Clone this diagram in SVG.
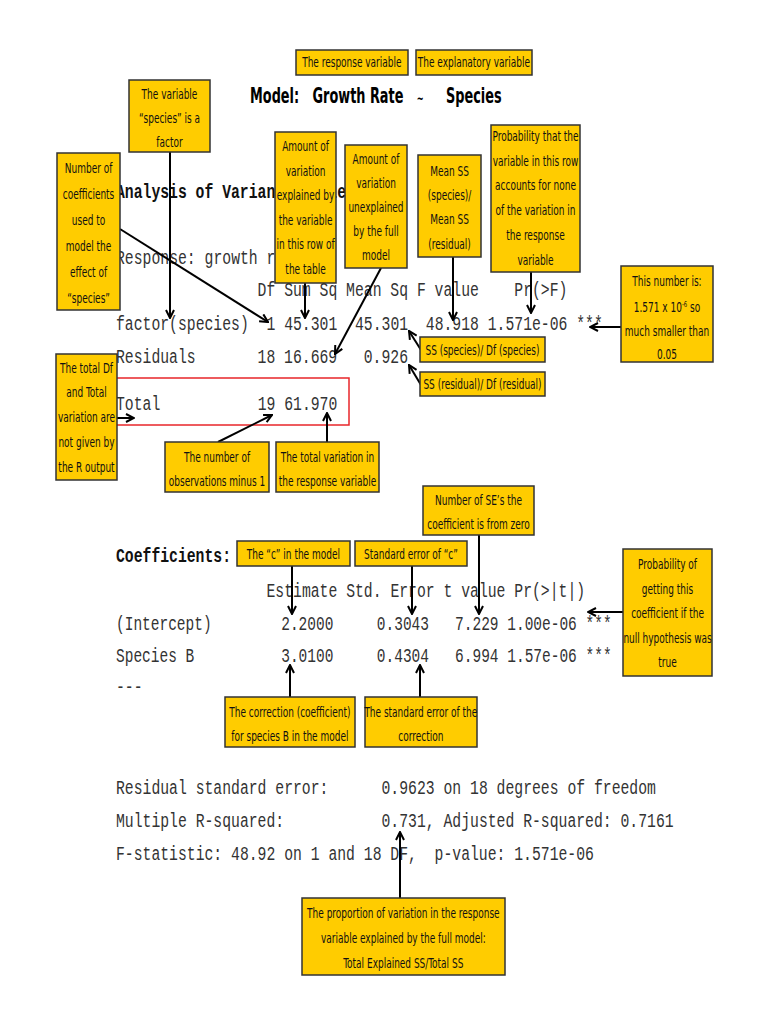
<svg xmlns="http://www.w3.org/2000/svg" width="768" height="1024" viewBox="0 0 768 1024">
<style>
.m{font-family:"Liberation Mono",monospace;font-size:20px;fill:#333;white-space:pre}
.mb{font-family:"Liberation Mono",monospace;font-size:20px;font-weight:bold;fill:#111;white-space:pre}
.b{fill:#FFCC00;stroke:#333;stroke-width:1.5}
.t{font-family:"DejaVu Sans Condensed","Liberation Sans",sans-serif;font-stretch:condensed;font-size:13.5px;fill:#111;text-anchor:middle;transform-box:fill-box;transform-origin:center;transform:scaleX(0.74)}
.c line{stroke:#000;stroke-width:2;fill:none}
.title{font-family:"DejaVu Sans Condensed","Liberation Sans",sans-serif;font-size:22px;font-weight:bold;fill:#000;white-space:pre}
</style>
<defs>
<marker id="a" viewBox="0 0 10 10" refX="9" refY="5" markerWidth="5" markerHeight="5" orient="auto" markerUnits="strokeWidth">
<path d="M1,1 L9,5 L1,9" fill="none" stroke="#000" stroke-width="2"/>
</marker>
</defs>
<rect width="768" height="1024" fill="#fff"/>
<g id="routput">
<text class="mb" x="116" y="198" textLength="230" lengthAdjust="spacingAndGlyphs">Analysis of Variance Table</text>
<text class="m" x="116" y="264" textLength="186" lengthAdjust="spacingAndGlyphs">Response: growth rate</text>
<text class="m" x="257.6" y="296" textLength="309.8" lengthAdjust="spacingAndGlyphs">Df Sum Sq Mean Sq F value    Pr(&gt;F)</text>
<text class="m" x="116" y="330" textLength="486.8" lengthAdjust="spacingAndGlyphs">factor(species)  1 45.301  45.301  48.918 1.571e-06 ***</text>
<text class="m" x="116" y="363" textLength="292" lengthAdjust="spacingAndGlyphs">Residuals       18 16.669   0.926</text>
<text class="m" x="116" y="410" textLength="221.3" lengthAdjust="spacingAndGlyphs">Total           19 61.970</text>
<rect x="116" y="378" width="233" height="47" fill="none" stroke="#e8262a" stroke-width="1.5"/>
<text class="mb" x="116" y="562" textLength="115" lengthAdjust="spacingAndGlyphs">Coefficients:</text>
<text class="m" x="266.5" y="597" textLength="318.6" lengthAdjust="spacingAndGlyphs">Estimate Std. Error t value Pr(&gt;|t|)</text>
<text class="m" x="116" y="630" textLength="495.6" lengthAdjust="spacingAndGlyphs">(Intercept)        2.2000     0.3043   7.229 1.00e-06 ***</text>
<text class="m" x="116" y="662" textLength="495.6" lengthAdjust="spacingAndGlyphs">Species B          3.0100     0.4304   6.994 1.57e-06 ***</text>
<text class="m" x="116" y="693" textLength="26.6" lengthAdjust="spacingAndGlyphs">---</text>
<text class="m" x="116" y="794" textLength="539.9" lengthAdjust="spacingAndGlyphs">Residual standard error:      0.9623 on 18 degrees of freedom</text>
<text class="m" x="116" y="827" textLength="557.6" lengthAdjust="spacingAndGlyphs">Multiple R-squared:           0.731, Adjusted R-squared: 0.7161</text>
<text class="m" x="116" y="860" textLength="477.9" lengthAdjust="spacingAndGlyphs">F-statistic: 48.92 on 1 and 18 DF,  p-value: 1.571e-06</text>
<text class="title" x="250" y="103" transform="matrix(0.65,0,0,1,87.5,0)">Model:   Growth Rate   <tspan font-size="14">~</tspan>     Species</text>
</g>
<g class="c" id="connectors">
<line x1="170" y1="152" x2="170" y2="318" marker-end="url(#a)"/>
<line x1="120" y1="229" x2="268" y2="322" marker-end="url(#a)"/>
<line x1="305" y1="283" x2="305" y2="318" marker-end="url(#a)"/>
<line x1="381" y1="268" x2="335" y2="354" marker-end="url(#a)"/>
<line x1="453" y1="257" x2="453" y2="320" marker-end="url(#a)"/>
<line x1="531" y1="272" x2="531" y2="313" marker-end="url(#a)"/>
<line x1="621" y1="327" x2="590" y2="327" marker-end="url(#a)"/>
<line x1="421" y1="350" x2="409" y2="331" stroke-width="1.5" marker-end="url(#a)"/>
<line x1="421" y1="385" x2="409" y2="365" stroke-width="1.5" marker-end="url(#a)"/>
<line x1="117" y1="418" x2="134" y2="418" marker-end="url(#a)"/>
<line x1="218" y1="442" x2="272" y2="415" marker-end="url(#a)"/>
<line x1="327" y1="442" x2="327" y2="413" marker-end="url(#a)"/>
<line x1="479" y1="535" x2="479" y2="614" marker-end="url(#a)"/>
<line x1="292" y1="566" x2="292" y2="614" marker-end="url(#a)"/>
<line x1="412" y1="566" x2="412" y2="614" marker-end="url(#a)"/>
<line x1="623" y1="612" x2="588" y2="612" marker-end="url(#a)"/>
<line x1="290" y1="697" x2="290" y2="665" marker-end="url(#a)"/>
<line x1="420" y1="697" x2="420" y2="665" marker-end="url(#a)"/>
<line x1="400" y1="898" x2="400" y2="832" marker-end="url(#a)"/>
</g>
<g id="n-response"><rect class="b" x="296" y="50" width="112" height="25"/><text class="t" x="352" y="67">The response variable</text></g>
<g id="n-explanatory"><rect class="b" x="416" y="50" width="116" height="25"/><text class="t" x="474" y="67">The explanatory variable</text></g>
<g id="n-factor"><rect class="b" x="129" y="80" width="81" height="72"/><text class="t"><tspan x="169.5" y="99">The variable</tspan><tspan x="169.5" y="123">“species” is a</tspan><tspan x="169.5" y="147">factor</tspan></text></g>
<g id="n-ncoef"><rect class="b" x="57" y="153" width="63" height="157"/><text class="t"><tspan x="88.5" y="173">Number of</tspan><tspan x="88.5" y="199">coefficients</tspan><tspan x="88.5" y="225">used to</tspan><tspan x="88.5" y="251">model the</tspan><tspan x="88.5" y="277">effect of</tspan><tspan x="88.5" y="303">“species”</tspan></text></g>
<g id="n-explained"><rect class="b" x="275" y="132" width="61" height="151"/><text class="t"><tspan x="305.5" y="151">Amount of</tspan><tspan x="305.5" y="176">variation</tspan><tspan x="305.5" y="200">explained by</tspan><tspan x="305.5" y="225">the variable</tspan><tspan x="305.5" y="249">in this row of</tspan><tspan x="305.5" y="274">the table</tspan></text></g>
<g id="n-unexplained"><rect class="b" x="345" y="145" width="62" height="123"/><text class="t"><tspan x="376" y="164">Amount of</tspan><tspan x="376" y="188">variation</tspan><tspan x="376" y="212">unexplained</tspan><tspan x="376" y="236">by the full</tspan><tspan x="376" y="260">model</tspan></text></g>
<g id="n-meanss"><rect class="b" x="418" y="155" width="63" height="102"/><text class="t"><tspan x="449.5" y="176">Mean SS</tspan><tspan x="449.5" y="200">(species)/</tspan><tspan x="449.5" y="224">Mean SS</tspan><tspan x="449.5" y="249">(residual)</tspan></text></g>
<g id="n-prob"><rect class="b" x="491" y="125" width="89" height="147"/><text class="t"><tspan x="535.5" y="141">Probability that the</tspan><tspan x="535.5" y="166">variable in this row</tspan><tspan x="535.5" y="190">accounts for none</tspan><tspan x="535.5" y="215">of the variation in</tspan><tspan x="535.5" y="240">the response</tspan><tspan x="535.5" y="265">variable</tspan></text></g>
<g id="n-number"><rect class="b" x="621" y="266" width="92" height="96"/><text class="t"><tspan x="667" y="286">This number is:</tspan><tspan x="667" y="312">1.571 x 10<tspan font-size="8" dy="-5">-6</tspan><tspan dy="5"> so</tspan></tspan><tspan x="667" y="336">much smaller than</tspan><tspan x="667" y="359">0.05</tspan></text></g>
<g id="n-ssdf-species"><rect class="b" x="420" y="337" width="125" height="25"/><text class="t" x="482.5" y="355">SS (species)/ Df (species)</text></g>
<g id="n-ssdf-residual"><rect class="b" x="420" y="372" width="125" height="24"/><text class="t" x="482.5" y="389">SS (residual)/ Df (residual)</text></g>
<g id="n-total"><rect class="b" x="56" y="354" width="61" height="126"/><text class="t"><tspan x="86.5" y="373">The total Df</tspan><tspan x="86.5" y="397">and Total</tspan><tspan x="86.5" y="422">variation are</tspan><tspan x="86.5" y="447">not given by</tspan><tspan x="86.5" y="472">the R output</tspan></text></g>
<g id="n-obs"><rect class="b" x="165" y="442" width="104" height="50"/><text class="t"><tspan x="217" y="462">The number of</tspan><tspan x="217" y="486">observations minus 1</tspan></text></g>
<g id="n-totvar"><rect class="b" x="276" y="442" width="103" height="50"/><text class="t"><tspan x="327.5" y="462">The total variation in</tspan><tspan x="327.5" y="486">the response variable</tspan></text></g>
<g id="n-nse"><rect class="b" x="423" y="486" width="111" height="49"/><text class="t"><tspan x="478.5" y="505">Number of SE’s the</tspan><tspan x="478.5" y="529">coefficient is from zero</tspan></text></g>
<g id="n-c"><rect class="b" x="237" y="541" width="113" height="25"/><text class="t" x="293.5" y="559">The “c” in the model</text></g>
<g id="n-sec"><rect class="b" x="355" y="541" width="112" height="25"/><text class="t" x="411" y="559">Standard error of “c”</text></g>
<g id="n-probcoef"><rect class="b" x="623" y="549" width="89" height="127"/><text class="t"><tspan x="667.5" y="569">Probability of</tspan><tspan x="667.5" y="594">getting this</tspan><tspan x="667.5" y="618">coefficient if the</tspan><tspan x="667.5" y="643">null hypothesis was</tspan><tspan x="667.5" y="667">true</tspan></text></g>
<g id="n-correction"><rect class="b" x="225" y="697" width="130" height="50"/><text class="t"><tspan x="290" y="717">The correction (coefficient)</tspan><tspan x="290" y="741">for species B in the model</tspan></text></g>
<g id="n-secorr"><rect class="b" x="365" y="697" width="112" height="50"/><text class="t"><tspan x="421" y="717">The standard error of the</tspan><tspan x="421" y="741">correction</tspan></text></g>
<g id="n-proportion"><rect class="b" x="302" y="898" width="203" height="77"/><text class="t"><tspan x="403.5" y="918">The proportion of variation in the response</tspan><tspan x="403.5" y="943">variable explained by the full model:</tspan><tspan x="403.5" y="968">Total Explained SS/Total SS</tspan></text></g>
</svg>
